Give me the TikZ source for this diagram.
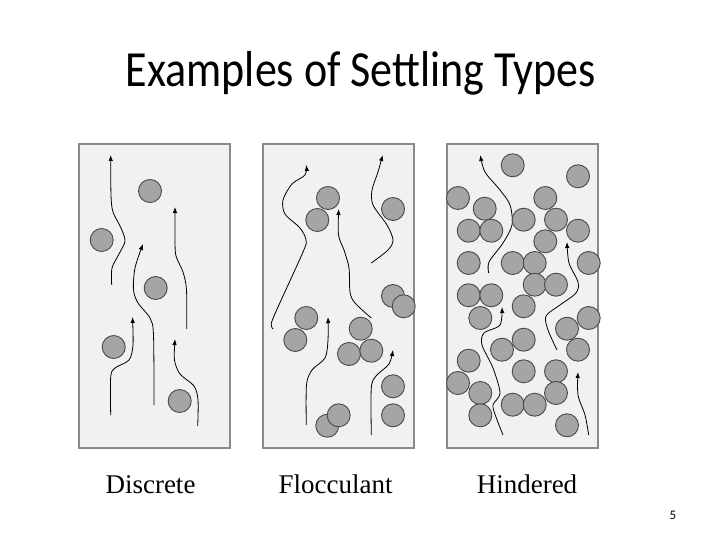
\documentclass[tikz,border=0pt]{standalone}
\usepackage{fontspec}
\setmainfont{Liberation Serif}
\newfontfamily\slidefont{Carlito}
\usetikzlibrary{arrows.meta}
\definecolor{tankfill}{HTML}{F1F1F1}
\definecolor{tankline}{HTML}{8A8A8A}
\definecolor{partfill}{HTML}{A5A5A5}
\definecolor{partline}{HTML}{4A4A4A}
\tikzset{
  tank/.style={fill=tankfill,draw=tankline,line width=1.3pt},
  particle/.style={circle,fill=partfill,draw=partline,line width=0.9pt,
    minimum size=23pt,inner sep=0pt},
  flow/.style={line width=0.8pt,-{Latex[length=6pt,width=4.5pt]}},
  caption/.style={anchor=base,font=\fontsize{27}{30}\selectfont}
}
\begin{document}
\begin{tikzpicture}[x=1pt,y=-1pt]
\useasboundingbox (0,0) rectangle (720,540);

\node[anchor=base,font=\slidefont\fontsize{44}{50}\selectfont] (title) at (361,87) {\scalebox{1}[1.15]{Examples of Settling Types}};

% tanks
\draw[tank] (79,144) rectangle (230,448);
\draw[tank] (263,144) rectangle (414,448);
\draw[tank] (447,144) rectangle (598,448);

% discrete
\draw[flow] plot[smooth] coordinates {(111.7,285) (112,268) (119,254) (125,241) (121,228) (113,212) (111,195) (110.7,155)};
\draw[flow] plot[smooth] coordinates {(154,405) (153.5,335) (150,318) (138,303) (133.5,290) (135,268) (143,244)};
\draw[flow] plot[smooth] coordinates {(186.7,329) (186.5,290) (183,272) (176,256) (175,240) (175,207)};
\draw[flow] plot[smooth] coordinates {(110.7,415) (110.7,377) (115,368) (129,360) (133,345) (132.5,317)};
\draw[flow] plot[smooth] coordinates {(197.7,426) (198,400) (194,386) (180,374) (174.5,360) (175,339)};

\node[particle] (d1) at (150,191) {};
\node[particle] (d2) at (101.7,240) {};
\node[particle] (d3) at (155.7,288) {};
\node[particle] (d4) at (113.7,347) {};
\node[particle] (d5) at (179.7,401) {};

% flocculant
\draw[flow] plot[smooth] coordinates {(273,329) (271.5,326) (274,316) (303,252) (306,240) (300,228) (285,214) (283,200) (292,184) (305,175) (306.3,165)};
\draw[flow] plot[smooth] coordinates {(371.3,318) (355,303) (350,292) (349,268) (344,250) (338.5,235) (338.7,209)};
\draw[flow] plot[smooth] coordinates {(371.3,263) (388,250) (393,240) (387,225) (373,205) (372,190) (378,172) (382.7,155)};
\draw[flow] plot[smooth] coordinates {(306.3,425) (306.5,385) (312,370) (325,358) (328,340) (328,317)};
\draw[flow] plot[smooth] coordinates {(371.3,435) (371.3,388) (376,376) (389,364) (393,350)};

\node[particle] (f1) at (328,198) {};
\node[particle] (f2) at (317.3,220) {};
\node[particle] (f3) at (393,209) {};
\node[particle] (f4) at (393,296) {};
\node[particle] (f5) at (403.7,306.3) {};
\node[particle] (f6) at (306.3,318) {};
\node[particle] (f7) at (295.3,340) {};
\node[particle] (f8) at (360.7,328.7) {};
\node[particle] (f9) at (349,354) {};
\node[particle] (f10) at (371.3,350.7) {};
\node[particle] (f11) at (393,386.3) {};
\node[particle] (f12) at (393,415.3) {};
\node[particle] (f13) at (327.3,425.7) {};
\node[particle] (f14) at (338.7,415.3) {};

% hindered
\draw[flow] plot[smooth] coordinates {(488.7,273) (489,262) (503,243) (512,225) (510,205) (500,190) (485,172) (480.3,155)};
\draw[flow] plot[smooth] coordinates {(557,350) (548,330) (546,316) (560,305) (576,293) (578,282) (569,263) (567,242)};
\draw[flow] plot[smooth] coordinates {(503,435) (496,417) (493,405) (500,393) (493,368) (482,345) (484,333) (500,325) (502,307)};
\draw[flow] plot[smooth] coordinates {(588.7,435) (585,415) (578,395) (578,372)};

\node[particle] (h1) at (512.7,165.3) {};
\node[particle] (h2) at (578,176.3) {};
\node[particle] (h3) at (458,198) {};
\node[particle] (h4) at (545.3,198) {};
\node[particle] (h5) at (484.7,208.7) {};
\node[particle] (h6) at (523.7,219.7) {};
\node[particle] (h7) at (556,219.7) {};
\node[particle] (h8) at (468.7,230.7) {};
\node[particle] (h9) at (491.3,230.7) {};
\node[particle] (h10) at (578,230.7) {};
\node[particle] (h11) at (545.3,241.3) {};
\node[particle] (h12) at (468.7,263) {};
\node[particle] (h13) at (512.7,263) {};
\node[particle] (h14) at (534.7,263) {};
\node[particle] (h15) at (588.7,263) {};
\node[particle] (h16) at (534.7,284.7) {};
\node[particle] (h17) at (556,284.7) {};
\node[particle] (h18) at (468.7,295.3) {};
\node[particle] (h19) at (491.3,295.3) {};
\node[particle] (h20) at (523.7,306.3) {};
\node[particle] (h21) at (480.3,318) {};
\node[particle] (h22) at (588.7,318) {};
\node[particle] (h23) at (567,328.7) {};
\node[particle] (h24) at (523.7,339.7) {};
\node[particle] (h25) at (502,349.7) {};
\node[particle] (h26) at (578,349.7) {};
\node[particle] (h27) at (468.7,360.7) {};
\node[particle] (h28) at (523.7,371.3) {};
\node[particle] (h29) at (556,371.3) {};
\node[particle] (h30) at (458,383) {};
\node[particle] (h31) at (480.3,393) {};
\node[particle] (h32) at (556,393) {};
\node[particle] (h33) at (512.7,404.7) {};
\node[particle] (h34) at (534.7,404.7) {};
\node[particle] (h35) at (480.3,415.3) {};
\node[particle] (h36) at (567,425.3) {};

% captions
\node[caption] (discrete) at (150.5,493) {Discrete};
\node[caption] (flocculant) at (335.5,493) {Flocculant};
\node[caption] (hindered) at (527,493) {Hindered};

\node[anchor=base,font=\slidefont\fontsize{13}{15}\selectfont] (page) at (673,519) {5};
\end{tikzpicture}
\end{document}
